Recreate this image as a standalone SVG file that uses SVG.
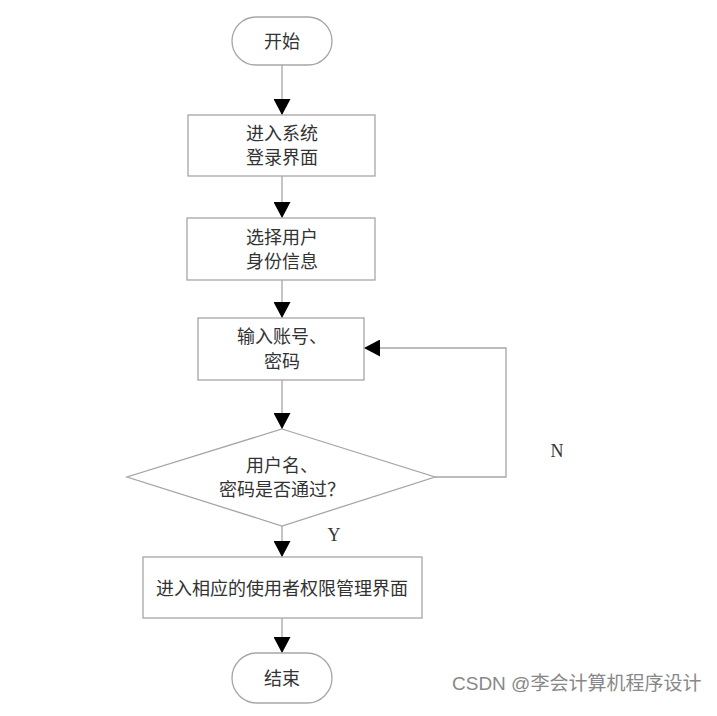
<svg xmlns="http://www.w3.org/2000/svg" width="717" height="716" viewBox="0 0 717 716">
<style>
.shape{fill:#fff;stroke:#a6a6a6;stroke-width:1.3}
.line{fill:none;stroke:#a6a6a6;stroke-width:1.3}
.t{font-family:"Liberation Serif","Noto Sans CJK SC",serif;font-size:18px;fill:#333;text-anchor:middle;dominant-baseline:central}
.wm{font-family:"Liberation Sans","Noto Sans CJK SC",sans-serif;font-size:19px;fill:#888}
</style>
<defs>
<marker id="arr" viewBox="0 0 16 17" refX="16" refY="8.5" markerWidth="16" markerHeight="17" markerUnits="userSpaceOnUse" orient="auto">
<path d="M0,0 L16,8.5 L0,17 Z" fill="#000"/>
</marker>
</defs>
<rect width="717" height="716" fill="#fff"/>
<g id="connectors">
<line class="line" x1="282" y1="65" x2="282" y2="115" marker-end="url(#arr)"/>
<line class="line" x1="282" y1="176" x2="282" y2="218" marker-end="url(#arr)"/>
<line class="line" x1="282" y1="280" x2="282" y2="318" marker-end="url(#arr)"/>
<line class="line" x1="282" y1="380" x2="282" y2="429" marker-end="url(#arr)"/>
<polyline class="line" points="435,477 506,477 506,348 364,348" marker-end="url(#arr)"/>
<line class="line" x1="282" y1="526" x2="282" y2="557" marker-end="url(#arr)"/>
<line class="line" x1="282" y1="618" x2="282" y2="653" marker-end="url(#arr)"/>
<text class="t" x="557" y="451">N</text>
<text class="t" x="334" y="535">Y</text>
</g>
<g id="start">
<rect class="shape" x="232" y="17" width="100" height="48" rx="24"/>
<text class="t" x="282" y="42">开始</text>
</g>
<g id="login">
<rect class="shape" x="188" y="115" width="187" height="61"/>
<text class="t" x="282" y="134">进入系统</text>
<text class="t" x="282" y="158">登录界面</text>
</g>
<g id="select">
<rect class="shape" x="187" y="218" width="188" height="62"/>
<text class="t" x="282" y="238">选择用户</text>
<text class="t" x="282" y="262">身份信息</text>
</g>
<g id="input">
<rect class="shape" x="198" y="318" width="166" height="62"/>
<text class="t" x="282" y="337">输入账号、</text>
<text class="t" x="282" y="362">密码</text>
</g>
<g id="decision">
<polygon class="shape" points="282,429 435,477 282,526 127,477"/>
<text class="t" x="282" y="466">用户名、</text>
<text class="t" x="282" y="490">密码是否通过？</text>
</g>
<g id="enter">
<rect class="shape" x="143" y="557" width="279" height="61"/>
<text class="t" x="282" y="589">进入相应的使用者权限管理界面</text>
</g>
<g id="end">
<rect class="shape" x="232" y="653" width="100" height="50" rx="25"/>
<text class="t" x="282" y="679">结束</text>
</g>
<text class="wm" x="452" y="690">CSDN @李会计算机程序设计</text>
</svg>
